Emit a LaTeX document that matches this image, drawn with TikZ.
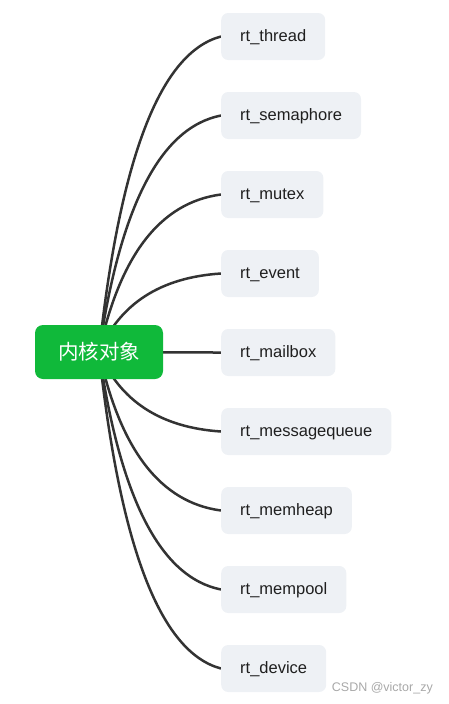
\documentclass[tikz,border=0pt]{standalone}
\usepackage{fontspec}
\setmainfont{Liberation Sans}
\newfontfamily\cjk{Noto Sans CJK SC}
\usetikzlibrary{calc}
\definecolor{rootgreen}{HTML}{10B93A}
\definecolor{leafbg}{HTML}{EEF1F5}
\definecolor{linec}{HTML}{333333}
\definecolor{wmark}{HTML}{A8A8A8}
\pgfdeclarelayer{background}
\pgfsetlayers{background,main}
\begin{document}
\begin{tikzpicture}[x=1pt,y=-1pt,
  rootbox/.style={fill=rootgreen, rounded corners=8pt, minimum width=128pt, minimum height=54pt,
    text=white, font=\cjk\fontsize{20.5}{24}\selectfont, inner sep=0pt},
  leafbox/.style={fill=leafbg, rounded corners=7pt, minimum height=47pt, inner xsep=19pt, inner ysep=0pt,
    text height=11.5pt, text depth=2.5pt,
    anchor=west, font=\fontsize{16.5}{19}\selectfont, text=black!88},
  conn/.style={draw=linec, line width=2.5pt},
  wm/.style={font=\fontsize{12.5}{14}\selectfont, text=wmark, inner sep=0pt}]
\useasboundingbox (0,0) rectangle (448,704);
\node[rootbox] (root) at (99,352) {内核对象};
\foreach \t [count=\i from 0] in {rt\_thread,rt\_semaphore,rt\_mutex,rt\_event,rt\_mailbox,rt\_messagequeue,rt\_memheap,rt\_mempool,rt\_device}{
  \pgfmathsetmacro{\yy}{36.5+79*\i}
  \pgfmathsetmacro{\dy}{\yy-352}
  \node[leafbox] (L\i) at (221,\yy) {\t};
  \begin{pgfonlayer}{background}
    \draw[conn] (root.center) .. controls ($(root.center)+(21,{0.616*\dy})$) and ($(L\i.west)+(-60.7,{-0.0507*\dy})$) .. (L\i.west);
  \end{pgfonlayer}
}
\node[wm, anchor=east] (wmk) at (433,688) {CSDN @victor\_zy};
\end{tikzpicture}
\end{document}
